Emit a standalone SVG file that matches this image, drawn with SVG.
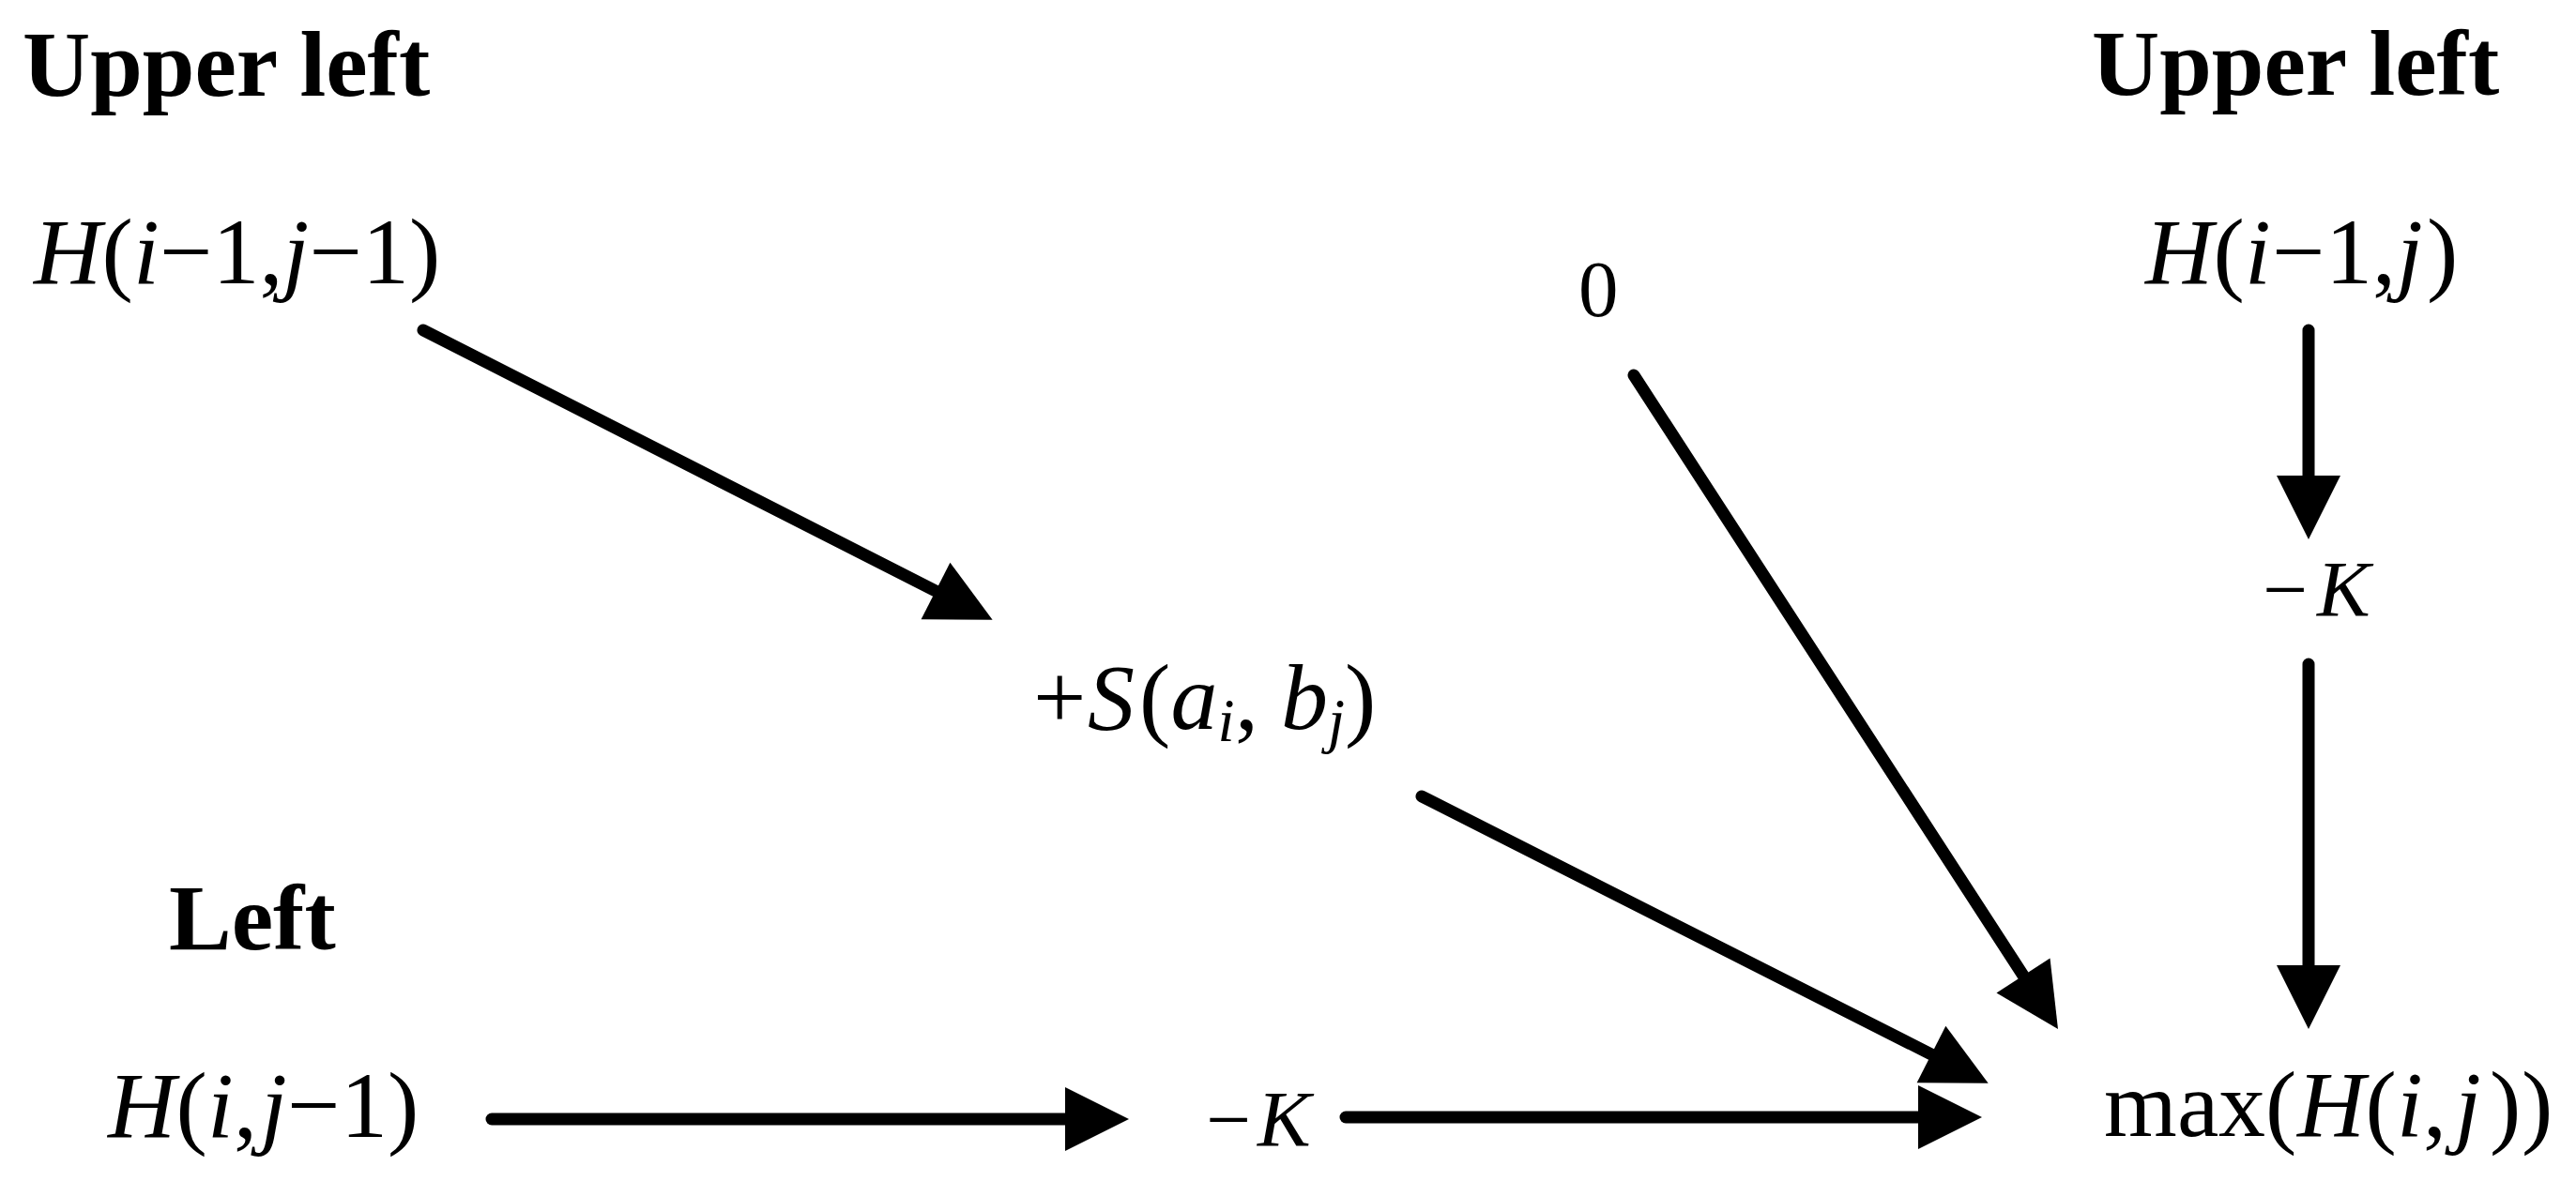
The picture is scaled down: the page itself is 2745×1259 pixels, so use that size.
<svg xmlns="http://www.w3.org/2000/svg" width="2745" height="1259" viewBox="0 0 2745 1259">
<style>
text{font-family:"Liberation Serif","Times New Roman",serif;fill:#000}
.lbl{font-weight:bold;font-size:100px}
.m{font-size:100px}
.sm{font-size:85px}
.it{font-style:italic}
.sub{font-size:65px;font-style:italic}
.conn line{stroke:#000;stroke-width:13;stroke-linecap:round;fill:none}
</style>
<defs>
<marker id="ah" markerUnits="userSpaceOnUse" orient="auto" refX="0" refY="0" markerWidth="68" markerHeight="68" viewBox="0 -34 68 68" overflow="visible">
<path d="M0,-34 L68,0 L0,34 Z" fill="#000"/>
</marker>
</defs>
<rect width="2745" height="1259" fill="#fff"/>
<g id="label-upper-left-1"><text class="lbl" x="24" y="102">Upper left</text></g>
<g id="label-upper-left-2"><text class="lbl" x="2229" y="101">Upper left</text></g>
<g id="label-left"><text class="lbl" x="180" y="1012">Left</text></g>
<g id="node-h-diag"><text class="m" y="302"><tspan class="it" x="36">H</tspan><tspan x="108.5">(</tspan><tspan class="it" x="142">i</tspan><tspan x="170">−</tspan><tspan x="226.5">1</tspan><tspan x="276.5">,</tspan><tspan class="it" x="301.5">j</tspan><tspan x="329.5">−</tspan><tspan x="386">1</tspan><tspan x="436">)</tspan></text></g>
<g id="node-h-up"><text class="m" y="302"><tspan class="it" x="2286">H</tspan><tspan x="2358.5">(</tspan><tspan class="it" x="2392">i</tspan><tspan x="2421">−</tspan><tspan x="2478">1</tspan><tspan x="2528">,</tspan><tspan class="it" x="2554">j</tspan><tspan x="2586">)</tspan></text></g>
<g id="node-h-left"><text class="m" y="1212"><tspan class="it" x="115">H</tspan><tspan x="187.5">(</tspan><tspan class="it" x="221">i</tspan><tspan x="249">,</tspan><tspan class="it" x="278">j</tspan><tspan x="306">−</tspan><tspan x="363">1</tspan><tspan x="413">)</tspan></text></g>
<g id="node-zero"><text class="sm" x="1682" y="337">0</text></g>
<g id="node-s"><text class="m" y="777"><tspan x="1101">+</tspan><tspan class="it" x="1159">S</tspan><tspan x="1214">(</tspan><tspan class="it" x="1247.5">a</tspan><tspan class="sub" x="1297.5" y="790">i</tspan><tspan x="1316" y="777">,</tspan><tspan class="it" x="1365">b</tspan><tspan class="sub" x="1415" y="790">j</tspan><tspan x="1433" y="777">)</tspan></text></g>
<g id="node-k-up"><text class="sm" y="657"><tspan x="2411">−</tspan><tspan class="it" x="2469">K</tspan></text></g>
<g id="node-k-left"><text class="sm" y="1222"><tspan x="1285">−</tspan><tspan class="it" x="1340">K</tspan></text></g>
<g id="node-max"><text class="m" y="1211"><tspan x="2242">m</tspan><tspan x="2320">a</tspan><tspan x="2364">x</tspan><tspan x="2414">(</tspan><tspan class="it" x="2448">H</tspan><tspan x="2520.5">(</tspan><tspan class="it" x="2554">i</tspan><tspan x="2582">,</tspan><tspan class="it" x="2616">j</tspan><tspan x="2653">)</tspan><tspan x="2687">)</tspan></text></g>
<g id="connectors" class="conn">
<line x1="451" y1="352" x2="997" y2="630" marker-end="url(#ah)"/>
<line x1="1515" y1="849" x2="2058" y2="1124" marker-end="url(#ah)"/>
<line x1="1741" y1="400" x2="2156" y2="1040" marker-end="url(#ah)"/>
<line x1="2460" y1="352" x2="2460" y2="507" marker-end="url(#ah)"/>
<line x1="2460" y1="708" x2="2460" y2="1029" marker-end="url(#ah)"/>
<line x1="524" y1="1193" x2="1135" y2="1193" marker-end="url(#ah)"/>
<line x1="1434" y1="1191" x2="2044" y2="1191" marker-end="url(#ah)"/>
</g>
</svg>
